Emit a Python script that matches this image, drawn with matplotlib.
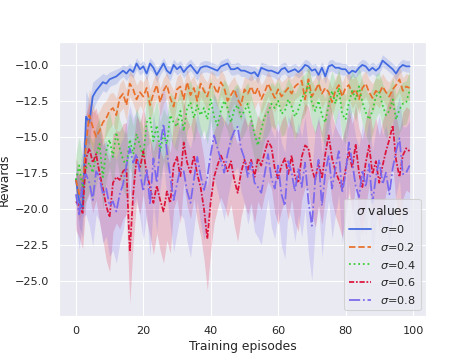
import numpy as np
import matplotlib
matplotlib.use("Agg")
import matplotlib.pyplot as plt
import seaborn as sns

episodes = np.arange(100)

sigma_labels = ["0", "0.2", "0.4", "0.6", "0.8"]

rew_s0 = [-18.0, -19.5, -20.0, -13.6, -14.0, -12.2, -11.8, -11.5, -11.2, -11.3,
          -11.0, -10.9, -10.8, -10.6, -10.4, -10.6, -10.3, -10.5, -9.9, -10.3,
          -10.1, -10.6, -9.9, -10.2, -10.7, -10.3, -9.9, -10.4, -10.6, -10.0,
          -10.3, -10.1, -10.5, -10.2, -10.0, -10.3, -10.6, -10.2, -10.1, -10.1,
          -10.2, -10.3, -10.4, -10.1, -10.0, -9.9, -10.3, -10.3, -10.2, -10.4,
          -10.4, -10.5, -10.6, -10.5, -10.8, -10.2, -10.3, -10.4, -10.4, -10.5,
          -10.6, -10.3, -10.2, -10.5, -10.4, -10.3, -10.5, -10.3, -10.0, -10.1,
          -10.4, -10.3, -10.7, -10.2, -10.8, -10.1, -10.0, -10.2, -10.2, -10.3,
          -10.3, -10.6, -10.4, -10.5, -10.2, -10.0, -10.1, -10.4, -10.2, -10.4,
          -10.2, -9.7, -9.9, -10.1, -10.3, -10.6, -10.2, -10.0, -10.1, -10.1]
rew_s02 = [-18.0, -19.0, -18.5, -15.5, -13.5, -14.3, -15.0, -14.6, -14.0, -13.7,
           -13.2, -13.0, -13.5, -12.3, -12.0, -12.8, -11.3, -11.7, -12.4, -11.9,
           -12.2, -11.6, -12.8, -12.0, -11.4, -12.6, -11.8, -11.4, -12.3, -12.9,
           -11.7, -11.5, -12.4, -11.2, -12.1, -11.6, -12.5, -11.3, -11.8, -12.2,
           -11.3, -11.5, -12.0, -11.2, -11.6, -12.5, -12.1, -11.7, -12.4, -12.8,
           -11.7, -12.0, -11.5, -12.1, -11.6, -12.4, -11.9, -11.3, -11.8, -12.3,
           -11.7, -12.2, -11.9, -11.6, -12.0, -11.5, -11.3, -11.1, -12.4, -11.0,
           -12.2, -11.8, -11.3, -12.0, -11.6, -11.9, -12.6, -11.8, -11.4, -12.2,
           -11.6, -11.4, -12.0, -11.7, -12.4, -11.6, -11.3, -11.9, -12.3, -11.8,
           -12.0, -11.5, -11.9, -12.2, -11.7, -11.4, -11.0, -11.8, -11.5, -11.6]
rew_s04 = [-18.0, -17.0, -18.5, -17.2, -16.8, -17.5, -16.3, -15.5, -17.8, -16.0,
           -15.2, -16.4, -14.7, -15.8, -16.6, -17.0, -15.2, -16.2, -14.8, -15.6,
           -16.4, -14.0, -13.7, -15.3, -14.2, -16.0, -14.8, -15.5, -13.5, -14.0,
           -14.3, -13.2, -14.6, -13.0, -12.6, -13.7, -12.8, -13.5, -13.0, -13.8,
           -12.4, -13.6, -14.2, -13.2, -12.5, -13.0, -14.0, -13.1, -12.8, -13.6,
           -13.2, -12.7, -13.8, -14.8, -15.6, -14.5, -13.6, -13.3, -12.7, -13.0,
           -12.5, -13.4, -13.2, -12.4, -12.9, -13.6, -13.1, -12.3, -12.0, -11.3,
           -12.6, -13.2, -12.5, -13.5, -14.0, -12.8, -11.8, -12.7, -11.6, -13.4,
           -13.8, -12.6, -11.8, -12.4, -11.5, -12.6, -13.3, -13.8, -13.2, -12.2,
           -11.9, -12.8, -13.5, -13.2, -12.4, -13.8, -13.1, -12.7, -12.6, -11.8]
rew_s06 = [-19.5, -19.8, -20.3, -16.5, -15.8, -16.8, -16.2, -17.5, -18.6, -19.8,
           -20.6, -18.2, -17.8, -18.0, -17.4, -17.2, -23.0, -19.0, -16.5, -17.2,
           -16.0, -17.5, -18.5, -19.6, -18.4, -19.4, -20.2, -18.8, -19.6, -17.0,
           -16.4, -17.8, -15.4, -16.8, -17.5, -16.3, -17.6, -18.5, -20.0, -22.1,
           -19.5, -17.8, -17.0, -16.3, -16.8, -17.4, -16.7, -18.0, -18.9, -17.5,
           -16.6, -17.3, -16.6, -17.8, -16.5, -17.0, -16.1, -15.3, -15.7, -17.2,
           -17.9, -17.0, -16.5, -17.6, -16.3, -17.8, -18.2, -16.4, -15.6, -15.8,
           -17.2, -18.0, -16.8, -17.9, -16.2, -14.9, -16.5, -17.4, -18.0, -18.6,
           -17.3, -16.0, -17.2, -15.5, -17.5, -18.5, -16.8, -15.6, -17.6, -16.7,
           -18.2, -17.0, -16.0, -15.2, -14.2, -16.6, -17.8, -16.3, -15.8, -16.0]
rew_s08 = [-19.0, -20.4, -18.0, -17.6, -18.2, -19.4, -17.4, -17.8, -19.0, -18.6,
           -19.8, -19.5, -20.2, -19.0, -18.3, -17.0, -15.8, -16.8, -16.2, -17.5,
           -18.8, -17.2, -19.7, -16.5, -18.2, -15.6, -14.1, -16.0, -17.8, -19.4,
           -18.3, -17.2, -17.4, -18.8, -19.6, -18.0, -16.4, -17.7, -18.7, -17.8,
           -16.2, -14.9, -15.8, -16.6, -17.5, -16.2, -15.2, -14.6, -14.3, -15.8,
           -16.5, -17.8, -16.8, -18.2, -18.5, -18.9, -17.6, -16.2, -17.9, -18.6,
           -17.0, -19.0, -19.8, -16.7, -17.5, -18.8, -17.2, -18.5, -16.8, -19.5,
           -21.2, -18.0, -16.6, -19.8, -17.5, -16.3, -18.6, -17.2, -16.0, -18.9,
           -17.6, -15.4, -16.8, -18.4, -19.2, -17.3, -18.5, -16.9, -19.6, -17.8,
           -16.6, -18.3, -17.5, -19.0, -17.2, -16.0, -15.1, -17.6, -17.5, -17.0]

# half width of the shaded band around each mean
spread_s0 = [1.5, 1.8, 2.0, 1.8, 1.5, 1.0, 0.8, 0.7, 0.6, 0.6,
             0.5, 0.5, 0.5, 0.4, 0.4, 0.5, 0.4, 0.4, 0.4, 0.4,
             0.4, 0.5, 0.4, 0.4, 0.5, 0.4, 0.4, 0.4, 0.5, 0.4,
             0.4, 0.4, 0.4, 0.4, 0.4, 0.4, 0.5, 0.4, 0.4, 0.4,
             0.4, 0.4, 0.4, 0.4, 0.4, 0.4, 0.4, 0.4, 0.4, 0.4,
             0.4, 0.5, 0.5, 0.4, 0.5, 0.4, 0.4, 0.4, 0.4, 0.4,
             0.5, 0.4, 0.4, 0.4, 0.4, 0.4, 0.4, 0.4, 0.4, 0.4,
             0.4, 0.4, 0.5, 0.4, 0.5, 0.4, 0.4, 0.4, 0.4, 0.4,
             0.4, 0.5, 0.4, 0.4, 0.4, 0.4, 0.4, 0.4, 0.4, 0.4,
             0.4, 0.4, 0.4, 0.4, 0.4, 0.5, 0.4, 0.4, 0.4, 0.4]
spread_s02 = [1.6, 1.8, 1.7, 2.0, 1.8, 1.6, 1.5, 1.4, 1.3, 1.2,
              1.2, 1.1, 1.2, 1.0, 1.0, 1.1, 0.9, 1.0, 1.0, 0.9,
              1.0, 0.9, 1.1, 1.0, 0.9, 1.0, 0.9, 0.9, 1.0, 1.1,
              0.9, 0.9, 1.0, 0.9, 1.0, 0.9, 1.0, 0.9, 0.9, 1.0,
              0.9, 0.9, 1.0, 0.9, 0.9, 1.0, 1.0, 0.9, 1.0, 1.1,
              0.9, 1.0, 0.9, 1.0, 0.9, 1.0, 0.9, 0.9, 0.9, 1.0,
              0.9, 1.0, 0.9, 0.9, 1.0, 0.9, 0.9, 0.9, 1.0, 0.9,
              1.0, 0.9, 0.9, 1.0, 0.9, 0.9, 1.0, 0.9, 0.9, 1.0,
              0.9, 0.9, 1.0, 0.9, 1.0, 0.9, 0.9, 0.9, 1.0, 0.9,
              1.0, 0.9, 0.9, 1.0, 0.9, 0.9, 0.9, 0.9, 0.9, 0.9]
spread_s04 = [1.8, 2.0, 1.9, 2.2, 2.0, 2.1, 2.0, 1.9, 2.2, 2.0,
              1.9, 2.0, 1.8, 2.0, 2.1, 2.2, 1.9, 2.0, 1.8, 1.9,
              2.0, 1.7, 1.7, 1.9, 1.8, 2.0, 1.8, 1.9, 1.6, 1.7,
              1.7, 1.6, 1.8, 1.6, 1.5, 1.7, 1.5, 1.6, 1.5, 1.7,
              1.5, 1.6, 1.7, 1.6, 1.5, 1.6, 1.7, 1.6, 1.5, 1.6,
              1.6, 1.5, 1.7, 1.8, 1.9, 1.7, 1.6, 1.6, 1.5, 1.5,
              1.5, 1.6, 1.6, 1.5, 1.5, 1.6, 1.6, 1.5, 1.4, 1.3,
              1.5, 1.6, 1.5, 1.6, 1.7, 1.5, 1.4, 1.5, 1.4, 1.6,
              1.7, 1.5, 1.4, 1.5, 1.4, 1.5, 1.6, 1.7, 1.6, 1.5,
              1.4, 1.5, 1.6, 1.6, 1.5, 1.7, 1.6, 1.5, 1.5, 1.4]
spread_s06 = [2.0, 2.2, 2.5, 3.0, 3.2, 3.5, 3.2, 3.4, 3.6, 3.8,
              3.8, 3.4, 3.2, 3.4, 3.3, 3.2, 3.6, 3.4, 3.0, 3.2,
              3.0, 3.3, 3.4, 3.6, 3.3, 3.5, 3.6, 3.4, 3.5, 3.0,
              2.9, 3.2, 2.8, 3.0, 3.2, 3.0, 3.2, 3.4, 3.5, 3.6,
              3.4, 3.2, 3.0, 2.9, 3.0, 3.2, 3.0, 3.2, 3.4, 3.1,
              3.0, 3.1, 3.0, 3.2, 3.0, 3.1, 2.9, 2.8, 2.9, 3.1,
              3.2, 3.1, 3.0, 3.2, 3.0, 3.2, 3.4, 3.0, 2.9, 2.9,
              3.1, 3.3, 3.0, 3.2, 3.0, 2.8, 3.0, 3.1, 3.2, 3.4,
              3.1, 2.9, 3.1, 2.8, 3.1, 3.3, 3.0, 2.8, 3.1, 3.0,
              3.3, 3.1, 2.9, 2.8, 2.7, 3.0, 3.2, 3.0, 2.9, 2.9]
spread_s08 = [2.0, 2.5, 2.6, 2.8, 3.0, 3.2, 3.0, 3.1, 3.4, 3.3,
              3.5, 3.4, 3.6, 3.4, 3.2, 3.1, 3.0, 3.1, 3.0, 3.2,
              3.4, 3.2, 3.6, 3.1, 3.4, 3.0, 2.8, 3.1, 3.4, 3.6,
              3.4, 3.2, 3.3, 3.5, 3.8, 3.4, 3.1, 3.3, 3.5, 3.3,
              3.1, 2.9, 3.0, 3.2, 3.3, 3.1, 2.9, 2.8, 2.8, 3.0,
              3.1, 3.3, 3.2, 3.4, 3.5, 3.6, 3.3, 3.1, 3.4, 3.5,
              3.2, 3.6, 3.7, 3.2, 3.3, 3.5, 3.2, 3.5, 3.2, 3.6,
              3.8, 3.4, 3.1, 3.6, 3.3, 3.1, 3.5, 3.2, 3.0, 3.5,
              3.3, 2.9, 3.2, 3.4, 3.5, 3.2, 3.4, 3.1, 3.6, 3.3,
              3.1, 3.4, 3.3, 3.5, 3.2, 3.0, 2.9, 3.3, 3.2, 3.1]

series = [rew_s0, rew_s02, rew_s04, rew_s06, rew_s08]
spreads = [spread_s0, spread_s02, spread_s04, spread_s06, spread_s08]
colors = ["royalblue", "#e8702a", "limegreen", "crimson", "mediumslateblue"]
styles = ["-", "--", ":", (0, (3, 1, 1, 1)), "-."]

sns.set_theme(style="darkgrid")

fig, ax = plt.subplots(figsize=(6.4, 4.8), dpi=74)

for vals, sp, col, ls, lab in zip(series, spreads, colors, styles, sigma_labels):
    y = np.array(vals)
    s = np.array(sp)
    ax.fill_between(episodes, y - s, y + s, color=col, alpha=0.2, linewidth=0)
    ax.plot(episodes, y, color=col, linestyle=ls, linewidth=1.7,
            label=r"$\sigma$=" + lab)

ax.set_xlabel("Training episodes")
ax.set_ylabel("Rewards")
ax.legend(title=r"$\sigma$ values", loc="lower right", fontsize=11,
          title_fontsize=12)

fig.savefig("out.png", dpi=74)
